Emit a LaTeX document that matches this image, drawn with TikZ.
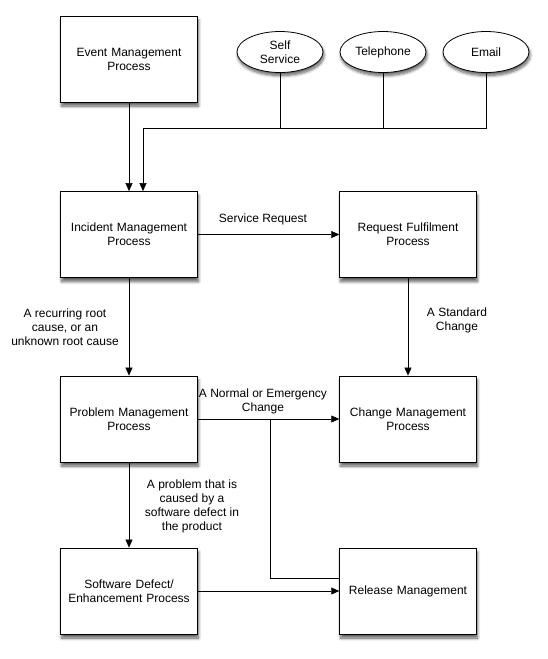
\documentclass[tikz,border=0pt]{standalone}
\usepackage{fontspec}
\setmainfont{Liberation Sans}
\usetikzlibrary{shapes,arrows.meta,positioning,shadows.blur}
\tikzstyle{block} = [rectangle, draw, fill=white, line width=0.8pt,
    text width=130pt, align=center, minimum width=136pt, minimum height=86pt,
    blur shadow={shadow blur steps=8, shadow blur radius=3pt, shadow xshift=1pt, shadow yshift=-4pt, shadow opacity=65}]
\tikzstyle{source} = [ellipse, draw, fill=white, line width=0.8pt,
    minimum width=86pt, minimum height=41pt, align=center, inner sep=0pt,
    blur shadow={shadow blur steps=8, shadow blur radius=3pt, shadow xshift=1pt, shadow yshift=-3pt, shadow opacity=65}]
\tikzstyle{note} = [align=center, inner sep=0pt]
\tikzstyle{arrow} = [line width=0.6pt, -{Triangle[length=8pt,width=7pt]}]
\tikzstyle{wire} = [line width=0.6pt]

\begin{document}
\begin{tikzpicture}[x=1pt, y=-1pt, node distance=175pt,
    every node/.style={font=\fontsize{12}{14}\selectfont}]
    \useasboundingbox (0,0) rectangle (548,659);
    % Place nodes
    \node [block] at (129,59) (event) {Event Management\\Process};
    \node [block, below of=event, node distance=175.5pt] (incident) {Incident Management\\Process};
    \node [block, right of=incident, node distance=279pt] (request) {Request Fulfilment\\Process};
    \node [block, below of=incident, node distance=184.5pt] (problem) {Problem Management\\Process};
    \node [block, right of=problem, node distance=279pt] (change) {Change Management\\Process};
    \node [block, below of=problem, node distance=172pt] (software) {Software Defect/\\Enhancement Process};
    \node [block, right of=software, node distance=279pt] (release) {Release Management};
    \node [source] at (280,52) (self) {Self\\Service};
    \node [source, right of=self, node distance=103pt] (phone) {Telephone};
    \node [source, right of=phone, node distance=103pt] (email) {Email};
    \coordinate (bus) at (143,128);
    \coordinate (split) at (270,419);
    % Labels
    \node [note] at (263,219) (srlabel) {Service Request};
    \node [note] at (65,327) (rootlabel) {A recurring root\\cause, or an\\unknown root cause};
    \node [note] at (457,320) (stdlabel) {A Standard\\Change};
    \node [note] at (263,401) (normlabel) {A Normal or Emergency\\Change};
    \node [note] at (192,506) (swlabel) {A problem that is\\caused by a\\software defect in\\the product};
    % Draw edges
    \draw [wire] (self.south) -- (self.south |- bus);
    \draw [wire] (phone.south) -- (phone.south |- bus);
    \draw [arrow] (email.south) |- (bus) -- (bus |- incident.north);
    \draw [arrow] (event) -- (incident);
    \draw [arrow] (incident) -- (request);
    \draw [arrow] (incident) -- (problem);
    \draw [arrow] (request) -- (change);
    \draw [arrow] (problem) -- (change);
    \draw [arrow] (problem) -- (software);
    \draw [arrow] (software) -- (release);
    \draw [wire] (split) |- ([yshift=13pt]release.west);
\end{tikzpicture}
\end{document}
